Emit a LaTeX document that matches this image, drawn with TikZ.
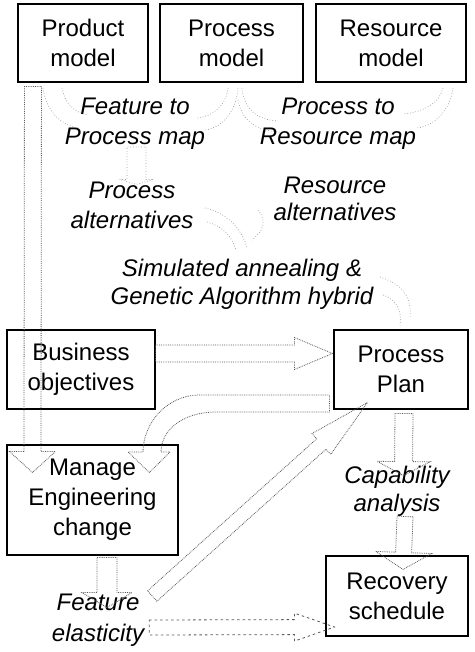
\documentclass[tikz,border=0pt]{standalone}
\usepackage{fontspec}
\setmainfont{Liberation Sans}
\usetikzlibrary{calc}
\tikzset{
 box/.style={draw=black, line width=1.1pt, align=center, inner sep=0pt, font=\fontsize{24}{30}\selectfont},
 lab/.style={align=center, inner sep=0pt, font=\fontsize{24}{30}\selectfont\itshape},
 barrow/.style={draw=black!65, densely dotted, line width=0.8pt},
 barrowd/.style={draw=black!65, dash pattern=on 2.5pt off 3pt, line width=0.8pt},
 faint/.style={draw=black!40, dotted, line width=0.7pt},
}
\newcommand\blockarr[6]{%
 \coordinate (baA) at (#2); \coordinate (baB) at (#3);
 \coordinate (baC) at ($(baB)!#6!(baA)$);
 \draw[#1] ($(baA)!#4!90:(baB)$) -- ($(baC)!#4!90:(baB)$) -- ($(baC)!#5!90:(baB)$) -- (baB) -- ($(baC)!#5!-90:(baB)$) -- ($(baC)!#4!-90:(baB)$) -- ($(baA)!#4!-90:(baB)$) -- cycle;}
\begin{document}
\begin{tikzpicture}[x=1pt,y=-1pt]
\useasboundingbox (0,0) rectangle (474,652);
\fill[white] (0,0) rectangle (474,652);
% boxes
\node[box, minimum width=130pt, minimum height=78pt] (prod) at (83,43) {Product\\model};
\node[box, minimum width=143pt, minimum height=78pt] (procm) at (231.5,43) {Process\\model};
\node[box, minimum width=150pt, minimum height=78pt] (resm) at (391,43) {Resource\\model};
\node[box, minimum width=148pt, minimum height=79pt] (bus) at (81,369.5) {Business\\objectives};
\node[box, minimum width=134pt, minimum height=79pt] (plan) at (401,369.5) {Process\\Plan};
\node[box, minimum width=171pt, minimum height=110pt] (mec) at (92.5,500) {Manage\\Engineering\\change};
\node[box, minimum width=142pt, minimum height=80pt] (rec) at (397,596) {Recovery\\schedule};
% labels
\node[lab] (fpm) at (135,124) {Feature to\\Process map};
\node[lab] (prm) at (338,124) {Process to\\Resource map};
\node[lab] (palt) at (132,205) {Process\\alternatives};
\node[lab, font=\fontsize{24}{27}\selectfont\itshape] (ralt) at (335,199) {Resource\\alternatives};
\node[lab, font=\fontsize{24}{28}\selectfont\itshape] (sa) at (242,284) {Simulated annealing \&\\Genetic Algorithm hybrid};
\node[lab, font=\fontsize{24}{28}\selectfont\itshape] (cap) at (397,491) {Capability\\analysis};
\node[lab, font=\fontsize{24}{31}\selectfont\itshape] (fel) at (98,620) {Feature\\elasticity};
% main block arrows
\coordinate (p1) at ($(prod.south west)+(15.5,4)$);
\coordinate (p2) at ($(mec.north west)+(26,28)$);
\blockarr{barrow}{p1}{p2}{8.5pt}{23pt}{21pt}
\coordinate (b1) at ($(bus.east)+(0,-16)$);
\coordinate (b2) at ($(plan.west)+(-1,-16)$);
\blockarr{barrow}{b1}{b2}{8.5pt}{16pt}{38pt}
\coordinate (c1) at ($(plan.west)+(-4,25.5)$);
\coordinate (c2) at ($(plan.west)+(-4,42.5)$);
\coordinate (c3) at ($(mec.north west)+(143,28)$);
\draw[barrow] (c1) -- (200,395) .. controls (165,395) and (143,425) .. (143,452) -- (128,452) -- (c3) -- (170,452) -- (161,452) .. controls (161,432) and (180,412) .. (217,412) -- (c2) -- cycle;
\coordinate (d1) at ($(fel.east)+(8,-24)$);
\coordinate (d2) at ($(plan.south west)+(34,-7)$);
\blockarr{barrow}{d1}{d2}{7pt}{14pt}{62pt}
\coordinate (e1) at ($(plan.south)+(3,4)$);
\coordinate (e2) at ($(plan.south)+(2.5,66)$);
\blockarr{barrow}{e1}{e2}{9pt}{26.5pt}{14pt}
\coordinate (f1) at ($(rec.north)+(8,-39)$);
\coordinate (f2) at ($(rec.north)+(6,14)$);
\blockarr{barrow}{f1}{f2}{8pt}{28pt}{17pt}
\coordinate (g1) at ($(mec.south)+(14.5,2)$);
\coordinate (g2) at ($(mec.south)+(14.5,52)$);
\blockarr{barrow}{g1}{g2}{10pt}{25pt}{15pt}
\coordinate (h1) at ($(fel.east)+(5,7.5)$);
\coordinate (h2) at ($(rec.west)+(9,31)$);
\blockarr{barrowd}{h1}{h2}{7.5pt}{14pt}{40pt}
\coordinate (k1) at ($(fpm.south)+(1.5,-3)$);
\coordinate (k2) at ($(palt.north)+(4.5,3)$);
\blockarr{faint}{k1}{k2}{9.5pt}{17pt}{5pt}
% faint curved bands
\draw[faint] (43,88) .. controls (46,110) and (60,126) .. (80,128);
\draw[faint] (62,88) .. controls (64,102) and (74,113) .. (88,115);
\draw[faint] (228,88) .. controls (226,106) and (212,117) .. (197,118);
\draw[faint] (238,88) .. controls (236,112) and (222,128) .. (205,130);
\draw[faint] (242,88) .. controls (244,110) and (258,120) .. (278,121);
\draw[faint] (238,100) .. controls (242,122) and (258,131) .. (280,132);
\draw[faint] (453,88) .. controls (450,110) and (435,126) .. (417,128);
\draw[faint] (443,88) .. controls (440,102) and (425,112) .. (403,114);
\draw[faint] (205,208) .. controls (225,212) and (242,228) .. (247,248);
\draw[faint] (207,222) .. controls (222,226) and (232,236) .. (236,250);
\draw[faint] (258,210) .. controls (268,222) and (262,232) .. (252,240);
\draw[faint] (380,277) .. controls (405,285) and (412,300) .. (410,318);
\draw[faint] (383,295) .. controls (398,300) and (402,312) .. (400,325);
\end{tikzpicture}
\end{document}
